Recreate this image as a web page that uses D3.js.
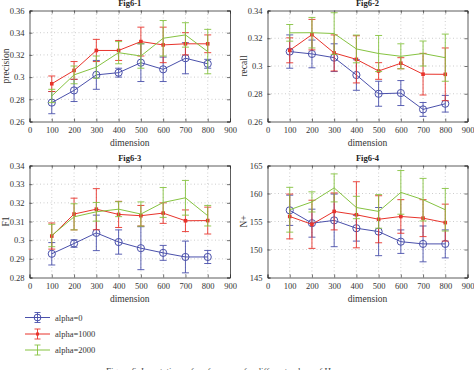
<!DOCTYPE html>
<html>
<head>
<meta charset="utf-8">
<script src="https://cdn.jsdelivr.net/npm/d3@7"></script>
<style>
  body { margin: 0; background: #fff; }
  svg { display: block; font-family: "Liberation Serif", "DejaVu Serif", serif; }
</style>
</head>
<body>
<div id="chart"></div>
<script>
// data
const dims = [100, 200, 300, 400, 500, 600, 700, 800];
const seriesNames = ["alpha=0", "alpha=1000", "alpha=2000"];

const precisionVals = [
  [0.277, 0.288, 0.302, 0.304, 0.313, 0.307, 0.317, 0.312],
  [0.294, 0.306, 0.324, 0.324, 0.332, 0.329, 0.330, 0.330],
  [0.283, 0.302, 0.309, 0.322, 0.319, 0.335, 0.338, 0.323]
];
const precisionErr = [
  [0.010, 0.010, 0.013, 0.004, 0.017, 0.011, 0.014, 0.004],
  [0.007, 0.008, 0.010, 0.009, 0.013, 0.016, 0.010, 0.008],
  [0.006, 0.008, 0.010, 0.010, 0.011, 0.016, 0.011, 0.020]
];

const recallVals = [
  [0.3104, 0.3087, 0.306, 0.2935, 0.280, 0.2805, 0.2687, 0.2728],
  [0.3113, 0.3226, 0.3094, 0.3048, 0.2964, 0.302, 0.2941, 0.294],
  [0.3239, 0.324, 0.3234, 0.3123, 0.309, 0.307, 0.309, 0.306]
];
const recallErr = [
  [0.012, 0.010, 0.010, 0.011, 0.009, 0.009, 0.005, 0.006],
  [0.009, 0.011, 0.013, 0.017, 0.006, 0.004, 0.015, 0.019],
  [0.006, 0.011, 0.015, 0.010, 0.013, 0.009, 0.009, 0.017]
];

const f1Vals = [
  [0.2927, 0.2982, 0.3039, 0.299, 0.2957, 0.2932, 0.291, 0.291],
  [0.3022, 0.314, 0.3166, 0.3138, 0.3131, 0.3145, 0.3104, 0.3105],
  [0.3025, 0.3125, 0.3152, 0.3166, 0.314, 0.3202, 0.3227, 0.3131]
];
const f1Err = [
  [0.006, 0.002, 0.0095, 0.0065, 0.0115, 0.004, 0.0085, 0.0035],
  [0.007, 0.0085, 0.011, 0.007, 0.0055, 0.0055, 0.0058, 0.0072],
  [0.006, 0.007, 0.005, 0.004, 0.0065, 0.008, 0.0093, 0.0055]
];

const nplusVals = [
  [157.0, 154.7, 155.2, 153.8, 153.2, 151.4, 151.0, 151.0],
  [155.9, 154.5, 156.8, 156.2, 155.4, 155.9, 155.6, 154.8],
  [157.1, 158.5, 161.0, 157.5, 156.8, 160.2, 158.9, 157.1]
];
const nplusErr = [
  [2.7, 2.5, 4.7, 2.3, 4.3, 2.1, 3.2, 2.5],
  [4.0, 4.3, 3.3, 5.9, 4.2, 3.0, 3.3, 3.3],
  [4.0, 1.8, 2.5, 2.0, 3.0, 3.9, 3.8, 3.8]
];

const xTicks = [0, 100, 200, 300, 400, 500, 600, 700, 800, 900];
const yTicks1 = [0.26, 0.28, 0.30, 0.32, 0.34, 0.36];
const yTicks2 = [0.26, 0.28, 0.30, 0.32, 0.34];
const yTicks3 = [0.28, 0.29, 0.30, 0.31, 0.32, 0.33, 0.34];
const yTicks4 = [145, 150, 155, 160, 165];

const colors = ["#4a50ab", "#e8332b", "#86c341"];

const width = 474, height = 370;
const svg = d3.select('#chart').append('svg')
  .attr('width', width)
  .attr('height', height);

const panels = [
  { title: "Fig6-1", ylab: "precision", vals: precisionVals, err: precisionErr, ticks: yTicks1, x0: 29.5, x1: 230, y0: 10.5, y1: 121.5 },
  { title: "Fig6-2", ylab: "recall", vals: recallVals, err: recallErr, ticks: yTicks2, x0: 267.5, x1: 467.5, y0: 10.5, y1: 121.5 },
  { title: "Fig6-3", ylab: "F1", vals: f1Vals, err: f1Err, ticks: yTicks3, x0: 29.5, x1: 230, y0: 165.5, y1: 277.5 },
  { title: "Fig6-4", ylab: "N+", vals: nplusVals, err: nplusErr, ticks: yTicks4, x0: 267.5, x1: 467.5, y0: 165.5, y1: 277.5 }
];

const fmt = v => String(+v.toFixed(2));

panels.forEach(p => {
  let x = d3.scaleLinear().domain([0, 900]).range([p.x0, p.x1]);
  let y = d3.scaleLinear().domain([p.ticks[0], p.ticks[p.ticks.length - 1]]).range([p.y1, p.y0]);
  let g = svg.append('g');

  // grid
  g.selectAll('line.gx').data(xTicks.slice(1, -1)).enter().append('line')
    .attr('x1', d => x(d)).attr('x2', d => x(d))
    .attr('y1', p.y0).attr('y2', p.y1)
    .style('stroke', '#b8b8b8').style('stroke-width', 0.7).style('stroke-dasharray', '1,2.5');
  g.selectAll('line.gy').data(p.ticks.slice(1, -1)).enter().append('line')
    .attr('x1', p.x0).attr('x2', p.x1)
    .attr('y1', d => y(d)).attr('y2', d => y(d))
    .style('stroke', '#b8b8b8').style('stroke-width', 0.7).style('stroke-dasharray', '1,2.5');

  // axes (ticks inside)
  g.append('g').attr('transform', `translate(0,${p.y1})`)
    .call(d3.axisBottom(x).tickValues(xTicks).tickSize(-3).tickPadding(5).tickFormat(d3.format('d')));
  g.append('g').attr('transform', `translate(0,${p.y0})`)
    .call(d3.axisTop(x).tickValues(xTicks).tickSize(-3).tickFormat(''));
  g.append('g').attr('transform', `translate(${p.x0},0)`)
    .call(d3.axisLeft(y).tickValues(p.ticks).tickSize(-3).tickPadding(5).tickFormat(fmt));
  g.append('g').attr('transform', `translate(${p.x1},0)`)
    .call(d3.axisRight(y).tickValues(p.ticks).tickSize(-3).tickFormat(''));
  g.selectAll('.domain').style('stroke', '#333').style('stroke-width', 0.8);
  g.selectAll('.tick line').style('stroke', '#333').style('stroke-width', 0.7);
  g.selectAll('.tick text').style('font-family', '"Liberation Serif", serif').style('font-size', '8.5px').style('fill', '#333');

  // title + labels
  g.append('text')
    .attr('x', (p.x0 + p.x1) / 2).attr('y', p.y0 - 5)
    .attr('text-anchor', 'middle')
    .style('font-size', '8.5px').style('font-weight', 'bold').style('fill', '#222')
    .text(p.title);
  g.append('text')
    .attr('x', (p.x0 + p.x1) / 2).attr('y', p.y1 + 24)
    .attr('text-anchor', 'middle')
    .style('font-size', '9.5px').style('fill', '#333')
    .text('dimension');
  g.append('text')
    .attr('transform', `translate(${p.x0 - 21},${(p.y0 + p.y1) / 2}) rotate(-90)`)
    .attr('text-anchor', 'middle')
    .style('font-size', '9.5px').style('fill', '#333')
    .text(p.ylab);

  // series
  p.vals.forEach((vals, s) => {
    let pts = dims.map((d, i) => ({ d: d, v: vals[i], e: p.err[s][i] }));
    let c = colors[s];
    let line = d3.line().x(d => x(d.d)).y(d => y(d.v));
    g.append('path').datum(pts)
      .attr('d', line)
      .attr('fill', 'none').attr('stroke', c).attr('stroke-width', 1);

    let eb = g.selectAll('g.eb' + s).data(pts).enter().append('g');
    eb.append('line')
      .attr('x1', d => x(d.d)).attr('x2', d => x(d.d))
      .attr('y1', d => y(d.v - d.e)).attr('y2', d => y(d.v + d.e))
      .attr('stroke', c).attr('stroke-width', 0.9);
    [-1, 1].forEach(k => {
      eb.append('line')
        .attr('x1', d => x(d.d) - 3.5).attr('x2', d => x(d.d) + 3.5)
        .attr('y1', d => y(d.v + k * d.e)).attr('y2', d => y(d.v + k * d.e))
        .attr('stroke', c).attr('stroke-width', 0.9);
    });

    if (s === 0) {
      g.selectAll('circle.m').data(pts).enter().append('circle')
        .attr('cx', d => x(d.d)).attr('cy', d => y(d.v)).attr('r', 3.6)
        .attr('fill', 'none').attr('stroke', c).attr('stroke-width', 1);
    } else if (s === 1) {
      g.selectAll('rect.m').data(pts).enter().append('rect')
        .attr('x', d => x(d.d) - 1.8).attr('y', d => y(d.v) - 1.8)
        .attr('width', 3.6).attr('height', 3.6)
        .attr('fill', c);
    }
  });
});

// legend
const legY = [317.5, 334, 350];
seriesNames.forEach((name, s) => {
  let c = colors[s];
  let lg = svg.append('g');
  lg.append('line').attr('x1', 25).attr('x2', 50).attr('y1', legY[s]).attr('y2', legY[s])
    .attr('stroke', c).attr('stroke-width', 1);
  lg.append('line').attr('x1', 37.5).attr('x2', 37.5).attr('y1', legY[s] - 5).attr('y2', legY[s] + 5)
    .attr('stroke', c).attr('stroke-width', 0.9);
  [-5, 5].forEach(k => {
    lg.append('line').attr('x1', 34.5).attr('x2', 40.5).attr('y1', legY[s] + k).attr('y2', legY[s] + k)
      .attr('stroke', c).attr('stroke-width', 0.9);
  });
  if (s === 0) {
    lg.append('circle').attr('cx', 37.5).attr('cy', legY[s]).attr('r', 3.4)
      .attr('fill', 'none').attr('stroke', c);
  } else if (s === 1) {
    lg.append('rect').attr('x', 36).attr('y', legY[s] - 1.5).attr('width', 3).attr('height', 3).attr('fill', c);
  }
  lg.append('text').attr('x', 55).attr('y', legY[s] + 3)
    .style('font-size', '8.5px').style('fill', '#333')
    .text(name);
});

// caption (cut at the bottom edge)
svg.append('text')
  .attr('x', 106).attr('y', 374)
  .style('font-size', '9px').style('fill', '#444')
  .text('Figure 6: Imputations of performance for different values of H.');
</script>
</body>
</html>
